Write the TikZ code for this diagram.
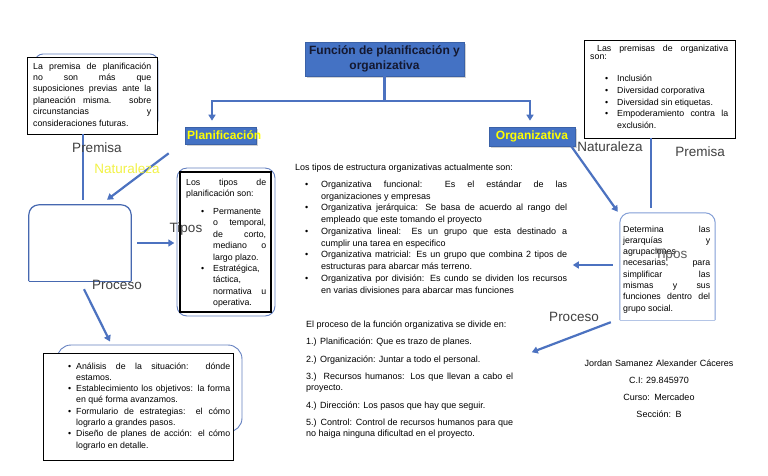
\documentclass[tikz,border=0pt]{standalone}
\usepackage{fontspec}
\setmainfont{Liberation Sans}
\usetikzlibrary{arrows.meta,calc,shadows}
\definecolor{bluefill}{RGB}{68,114,196}
\definecolor{conncol}{RGB}{76,114,192}
\definecolor{labgray}{RGB}{64,64,64}
\definecolor{yel}{RGB}{255,255,0}
\definecolor{natyel}{RGB}{242,242,70}
\definecolor{outl}{RGB}{100,128,192}
\definecolor{tabcol}{RGB}{70,104,176}
\definecolor{tabcolr}{RGB}{130,158,214}
\definecolor{titletext}{RGB}{20,24,48}
\newcommand\bitem[3]{\par{\leftskip=#1\noindent\llap{\textbullet\hskip #2}#3\par}}
\hbadness=10000 \hyphenpenalty=10000 \exhyphenpenalty=10000 \tolerance=10000
\begin{document}
\begin{tikzpicture}[x=1pt,y=-1pt,
  bluebox/.style={fill=bluefill, draw=bluefill!85!black, line width=0.6pt, inner sep=0,
    drop shadow={opacity=0.35,shadow xshift=1.5pt,shadow yshift=-1.5pt}},
  txtbox/.style={draw=black, fill=white, line width=0.9pt, inner sep=0},
  backout/.style={draw=outl, line width=0.9pt, rounded corners=10pt},
  conn/.style={draw=conncol, line width=2.2pt},
  arr/.style={conn, -{Triangle[length=6pt,width=7pt]}},
  lab/.style={font=\fontsize{13.5}{14}\selectfont, text=labgray, inner sep=0},
  body/.style={font=\fontsize{8.8}{11.4}\selectfont, inner sep=0, anchor=base west, align=justify},
  free/.style={font=\fontsize{9}{11.75}\selectfont, inner sep=0, anchor=base west, align=justify},
  tabline/.style={line width=1.2pt, draw=tabcol}
]
\useasboundingbox (0,0) rectangle (768,475);
\fill[white] (0,0) rectangle (768,475);

% background rounded outlines
\draw[backout, rounded corners=8pt] (35,54) rectangle (158,128);
\draw[backout] (177,168) rectangle (275,316);
\draw[backout, rounded corners=14pt] (57,345) rectangle (242,432);

% title and branch boxes
\node[bluebox, minimum width=159pt, minimum height=34pt, align=center,
  font=\bfseries\fontsize{12}{15}\selectfont, text=titletext] (title) at (384.5,59)
  {Función de planificación y\\organizativa};
\node[bluebox, minimum width=71pt, minimum height=17pt] (plan) at (220.5,135.5) {};
\node[font=\bfseries\fontsize{12}{14}\selectfont, text=yel, anchor=west, inner sep=0] (plantext) at (187,135.5) {Planificación};
\node[bluebox, minimum width=86pt, minimum height=19pt, text=yel,
  font=\bfseries\fontsize{12}{14}\selectfont] (org) at (532,136.5) {Organizativa};

\draw[arr] (title.south) -- ++(0,25) -| ([xshift=-8.5pt,yshift=6pt]plan.north);
\draw[arr] (title.south) -- ++(0,25) -| ([xshift=-2pt,yshift=6pt]org.north);

% text boxes
\node[txtbox, minimum width=130pt, minimum height=77pt] (tlbox) at (92,95.5) {};
\node[body, text width=118pt] (tltext) at (33,69)
  {La premisa de planificación\linebreak no son más que\linebreak suposiciones previas ante la\linebreak planeación misma. sobre\linebreak circunstancias y\linebreak consideraciones futuras.};

\node[txtbox, minimum width=151pt, minimum height=98pt] (trbox) at (659.5,89) {};
\node[body, text width=138pt] (trtext) at (590,51.3)
  {{\fontsize{8.8}{8.4}\selectfont\hspace*{7pt}Las premisas de organizativa\linebreak son:\par}\vspace{10.4pt}\fontsize{8.8}{11.7}\selectfont
  \bitem{27pt}{9pt}{Inclusión}
  \bitem{27pt}{9pt}{Diversidad corporativa}
  \bitem{27pt}{9pt}{Diversidad sin etiquetas.}
  \bitem{27pt}{9pt}{Empoderamiento contra la\linebreak exclusión.}};

\node[txtbox, line width=1.4pt, minimum width=91pt, minimum height=140pt] (tipbox) at (225.5,242) {};
\node[body, text width=80pt] (tiptext) at (186,185)
  {Los tipos de\linebreak planificación son:\par\vspace{6.6pt}
  \bitem{27pt}{9pt}{Permanente\linebreak o temporal,\linebreak de corto,\linebreak mediano o\linebreak largo plazo.}
  \bitem{27pt}{9pt}{Estratégica,\linebreak táctica,\linebreak normativa u\linebreak operativa.}};

\node[txtbox, minimum width=190pt, minimum height=107pt] (blbox) at (138,406.5) {};
\node[body, text width=154pt, font=\fontsize{8.8}{11.3}\selectfont] (bltext) at (76,369)
  {\llap{\textbullet\hskip 5pt}Análisis de la situación: dónde\linebreak estamos.
  \bitem{0pt}{5pt}{Establecimiento los objetivos: la forma\linebreak en qué forma avanzamos.}
  \bitem{0pt}{5pt}{Formulario de estrategias: el cómo\linebreak lograrlo a grandes pasos.}
  \bitem{0pt}{5pt}{Diseño de planes de acción: el cómo\linebreak lograrlo en detalle.}};

% tab shaped boxes
\node[minimum width=102pt, minimum height=76pt, inner sep=0] (ltab) at (80,243) {};
\draw[tabline, rounded corners=10pt] (ltab.south west) -- (ltab.north west) -- (ltab.north east) -- (ltab.south east);
\draw[tabline] (ltab.south east) -- (ltab.south west);

\node[minimum width=95pt, minimum height=107pt, inner sep=0] (rtab) at (667.5,266.5) {};
\draw[line width=1pt, draw=tabcolr, rounded corners=10pt] (rtab.south west) -- (rtab.north west) -- (rtab.north east) -- (rtab.south east);
\draw[line width=0.8pt, draw=tabcolr!60] (rtab.south east) -- (rtab.south west);
\node[body, text width=87pt, font=\fontsize{8.8}{11.3}\selectfont] (rtext) at (623,232)
  {Determina las\linebreak jerarquías y\linebreak agrupaciones\linebreak necesarias, para\linebreak simplificar las\linebreak mismas y sus\linebreak funciones dentro del\linebreak grupo social.};

% free texts
\node[free, text width=272pt] (midtext) at (295,170)
  {Los tipos de estructura organizativas actualmente son:\par\vspace{5.5pt}
  \bitem{26pt}{13pt}{Organizativa funcional: Es el estándar de las\linebreak organizaciones y empresas}
  \bitem{26pt}{13pt}{Organizativa jerárquica: Se basa de acuerdo al rango del\linebreak empleado que este tomando el proyecto}
  \bitem{26pt}{13pt}{Organizativa lineal: Es un grupo que esta destinado a\linebreak cumplir una tarea en especifico}
  \bitem{26pt}{13pt}{Organizativa matricial: Es un grupo que combina 2 tipos de\linebreak estructuras para abarcar más terreno.}
  \bitem{26pt}{13pt}{Organizativa por división: Es cundo se dividen los recursos\linebreak en varias divisiones para abarcar mas funciones}};

\node[free, text width=207pt, font=\fontsize{9}{11.2}\selectfont] (proctext) at (306,327)
  {\setlength\parskip{6.3pt}El proceso de la función organizativa se divide en:\par
  1.) Planificación: Que es trazo de planes.\par
  2.) Organización: Juntar a todo el personal.\par
  3.) Recursos humanos: Los que llevan a cabo el\linebreak proyecto.\par
  4.) Dirección: Los pasos que hay que seguir.\par
  5.) Control: Control de recursos humanos para que\linebreak no haiga ninguna dificultad en el proyecto.};

\node[font=\fontsize{9}{17}\selectfont, inner sep=0, anchor=base, text width=170pt, align=center] (author) at (659,366)
  {Jordan Samanez Alexander Cáceres\\C.I: 29.845970\\Curso: Mercadeo\\Sección: B};

% connectors
\draw[conn] ($(tlbox.south -| ltab.north)+(3,0)$) -- ($(ltab.north)+(3,-5)$);
\draw[arr] ($(plan.south west)+(-16,9)$) -- ($(ltab.north)+(27,-5)$);
\draw[arr] ($(ltab.east)+(6,0)$) -- ($(tipbox.west)+(-5,1)$);
\draw[arr] ($(ltab.south)+(4,8)$) -- ($(blbox.north)+(-28,-11)$);
\draw[conn] ($(trbox.south)+(-8.5,0)$) -- ($(rtab.north)+(-16.5,-5)$);
\draw[arr] ($(org.south east)+(-4,0)$) -- ($(rtab.north west)+(-2,-1)$);
\draw[arr] ($(rtab.west)+(-7,-1.5)$) -- ($(rtab.west)+(-47,-1.5)$);
\draw[arr] ($(rtab.south west)+(-9,2)$) -- ($(rtab.south west)+(-88,32)$);

% labels
\node[lab] (premL) at (97,148) {Premisa};
\node[lab, text=natyel] (natL) at (127,169) {Naturaleza};
\node[lab] (tipL) at (186,229) {Tipos};
\node[lab] (procL) at (117,285) {Proceso};
\node[lab] (natR) at (610,147) {Naturaleza};
\node[lab] (premR) at (700,152) {Premisa};
\node[lab, text=labgray!85] (tipR) at (671,255) {Tipos};
\node[lab] (procR) at (574,317) {Proceso};
\end{tikzpicture}
\end{document}
